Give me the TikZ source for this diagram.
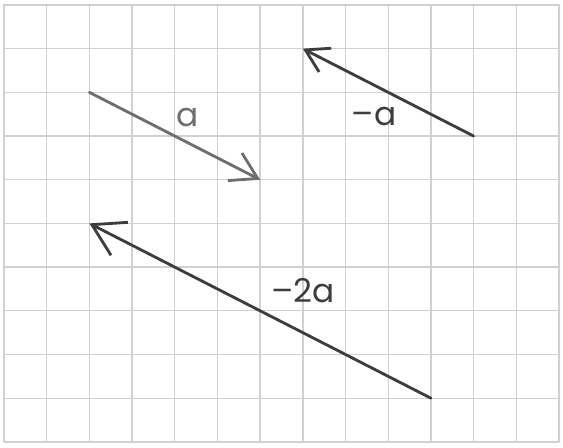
\documentclass[tikz,border=0pt]{standalone}
\usepackage{fontspec}
\setmainfont{Poppins}
\usetikzlibrary{arrows.meta}
\tikzset{
	luoi/.style={draw=black!18, line width=0.04cm},
	vecto/.style={line width=0.085cm, draw=black!76},
	nhan/.style={font=\fontsize{28}{30}\selectfont, text=black!76, anchor=base, inner sep=0pt},
}
\begin{document}
\begin{tikzpicture}[x=1.281cm, y=1.311cm, line join=round, line cap=round]
	\useasboundingbox (-0.094,-0.138) rectangle (13.094,10.114);
	%% Luoi o vuong
	\foreach \i in {0,...,13}
	\draw[luoi] (\i,0)--(\i,10);
	\foreach \j in {0,...,10}
	\draw[luoi] (0,\j)--(13,\j);
	%% Khai bao diem
	\path 
	(2,8) coordinate (A)
	(6,6) coordinate (B)
	(11,7) coordinate (C)
	(7,9) coordinate (D)
	(10,1) coordinate (E)
	(2,5) coordinate (F)
	;
	%% Ve cac vecto
	\draw[vecto, draw=black!57, -{Straight Barb[length=0.77cm, width=0.93cm]}] (A)--(B);
	\draw[vecto, -{Straight Barb[length=0.67cm, width=0.80cm]}] (C)--(D);
	\draw[vecto, -{Straight Barb[length=0.93cm, width=1.11cm]}] (E)--(F);
	%% Ten vecto
	\node[nhan, text=black!57] (tenA) at (4.29,7.21) {a};
	\node[nhan] (tenC) at (8.67,7.25) {–a};
	\node[nhan] (tenE) at (7.01,3.20) {–2a};
\end{tikzpicture}
\end{document}
